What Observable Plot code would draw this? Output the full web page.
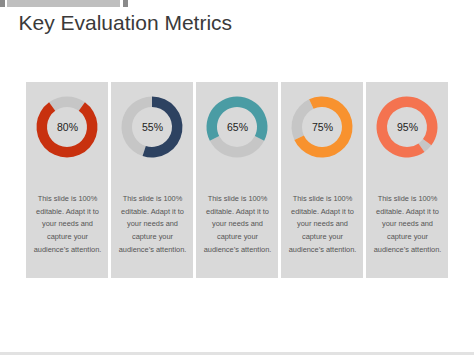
<!DOCTYPE html>
<html>
<head>
<meta charset="utf-8">
<script src="https://cdn.jsdelivr.net/npm/d3@7"></script>
<script src="https://cdn.jsdelivr.net/npm/@observablehq/plot@0.6"></script>
<style>
  html, body { margin: 0; padding: 0; background: #ffffff; }
  #wrap { position: relative; width: 474px; height: 355px; overflow: hidden; font-family: "Liberation Sans", Arial, sans-serif; }
  .deco { position: absolute; }
</style>
</head>
<body>
<div id="wrap">
  <div class="deco" style="left:0;top:0;width:5px;height:7px;background:#8a8a8a"></div>
  <div class="deco" style="left:7px;top:0;width:113px;height:7px;background:#bfbfbf"></div>
  <div class="deco" style="left:123px;top:0;width:5px;height:7px;background:#8a8a8a"></div>
  <div class="deco" style="left:0;top:352px;width:474px;height:3px;background:#e2e2e2"></div>
  <div id="chart"></div>
</div>
<script>
// ---- data ----
const title = "Key Evaluation Metrics";
const metrics = ["m1", "m2", "m3", "m4", "m5"];
const values = [80, 55, 65, 75, 95];
const labels = ["80%", "55%", "65%", "75%", "95%"];
const description = "This slide is 100%\neditable. Adapt it to\nyour needs and\ncapture your\naudience’s attention.";

// ---- styles ----
const colors = ["#c8310f", "#2d4261", "#4a9ca4", "#f8922e", "#f47350"];
const startDeg = [36, 0, -117, -25, 145];   // where the coloured arc starts (clockwise from top)
const trackColor = "#c6c6c6";
const panelColor = "#d9d9d9";

const rows = metrics.map((m, i) => ({
  m, value: values[i], label: labels[i], color: colors[i], start: startDeg[i]
}));

const donutY = 127, rOuter = 30.5, rInner = 20;

const donuts = Plot.dot(rows, {
  x: "m",
  y: () => donutY,
  render(index, scales, vals, dimensions, context) {
    const svgNS = "http://www.w3.org/2000/svg";
    const g = context.document.createElementNS(svgNS, "g");
    const bw = scales.x.bandwidth ? scales.x.bandwidth() : 0;
    const arc = d3.arc().innerRadius(rInner).outerRadius(rOuter);
    for (const i of index) {
      const d = rows[i];
      const cx = vals.x[i] + bw / 2, cy = vals.y[i];
      const a0 = d.start * Math.PI / 180;
      const a1 = a0 + (d.value / 100) * 2 * Math.PI;
      const track = context.document.createElementNS(svgNS, "path");
      track.setAttribute("d", arc({startAngle: a1, endAngle: a0 + 2 * Math.PI}));
      track.setAttribute("fill", trackColor);
      track.setAttribute("transform", `translate(${cx},${cy})`);
      g.appendChild(track);
      const p = context.document.createElementNS(svgNS, "path");
      p.setAttribute("d", arc({startAngle: a0, endAngle: a1}));
      p.setAttribute("fill", d.color);
      p.setAttribute("transform", `translate(${cx},${cy})`);
      g.appendChild(p);
    }
    return g;
  }
});

const chart = Plot.plot({
  width: 474,
  height: 355,
  margin: 0,
  style: {background: "transparent", fontFamily: "'Liberation Sans', Arial, sans-serif"},
  x: {type: "band", domain: metrics, range: [25, 449], paddingInner: 0.041, paddingOuter: 0, axis: null},
  y: {domain: [0, 355], range: [0, 355], axis: null},
  marks: [
    Plot.barY(rows, {x: "m", y1: () => 82, y2: () => 278, fill: panelColor}),
    donuts,
    Plot.text(rows, {x: "m", y: () => donutY, text: "label", fontSize: 10.5, fill: "#222222", lineAnchor: "middle"}),
    Plot.text(rows, {x: "m", y: () => 221.8, text: () => description, fontSize: 7.4, lineHeight: 1.72, fill: "#555555", lineAnchor: "middle"}),
    Plot.text([title], {frameAnchor: "top-left", dx: 18, dy: 29, text: d => d, fontSize: 21, fill: "#3a3a3a", textAnchor: "start", lineAnchor: "bottom"})
  ]
});
document.getElementById("chart").appendChild(chart);
</script>
</body>
</html>
